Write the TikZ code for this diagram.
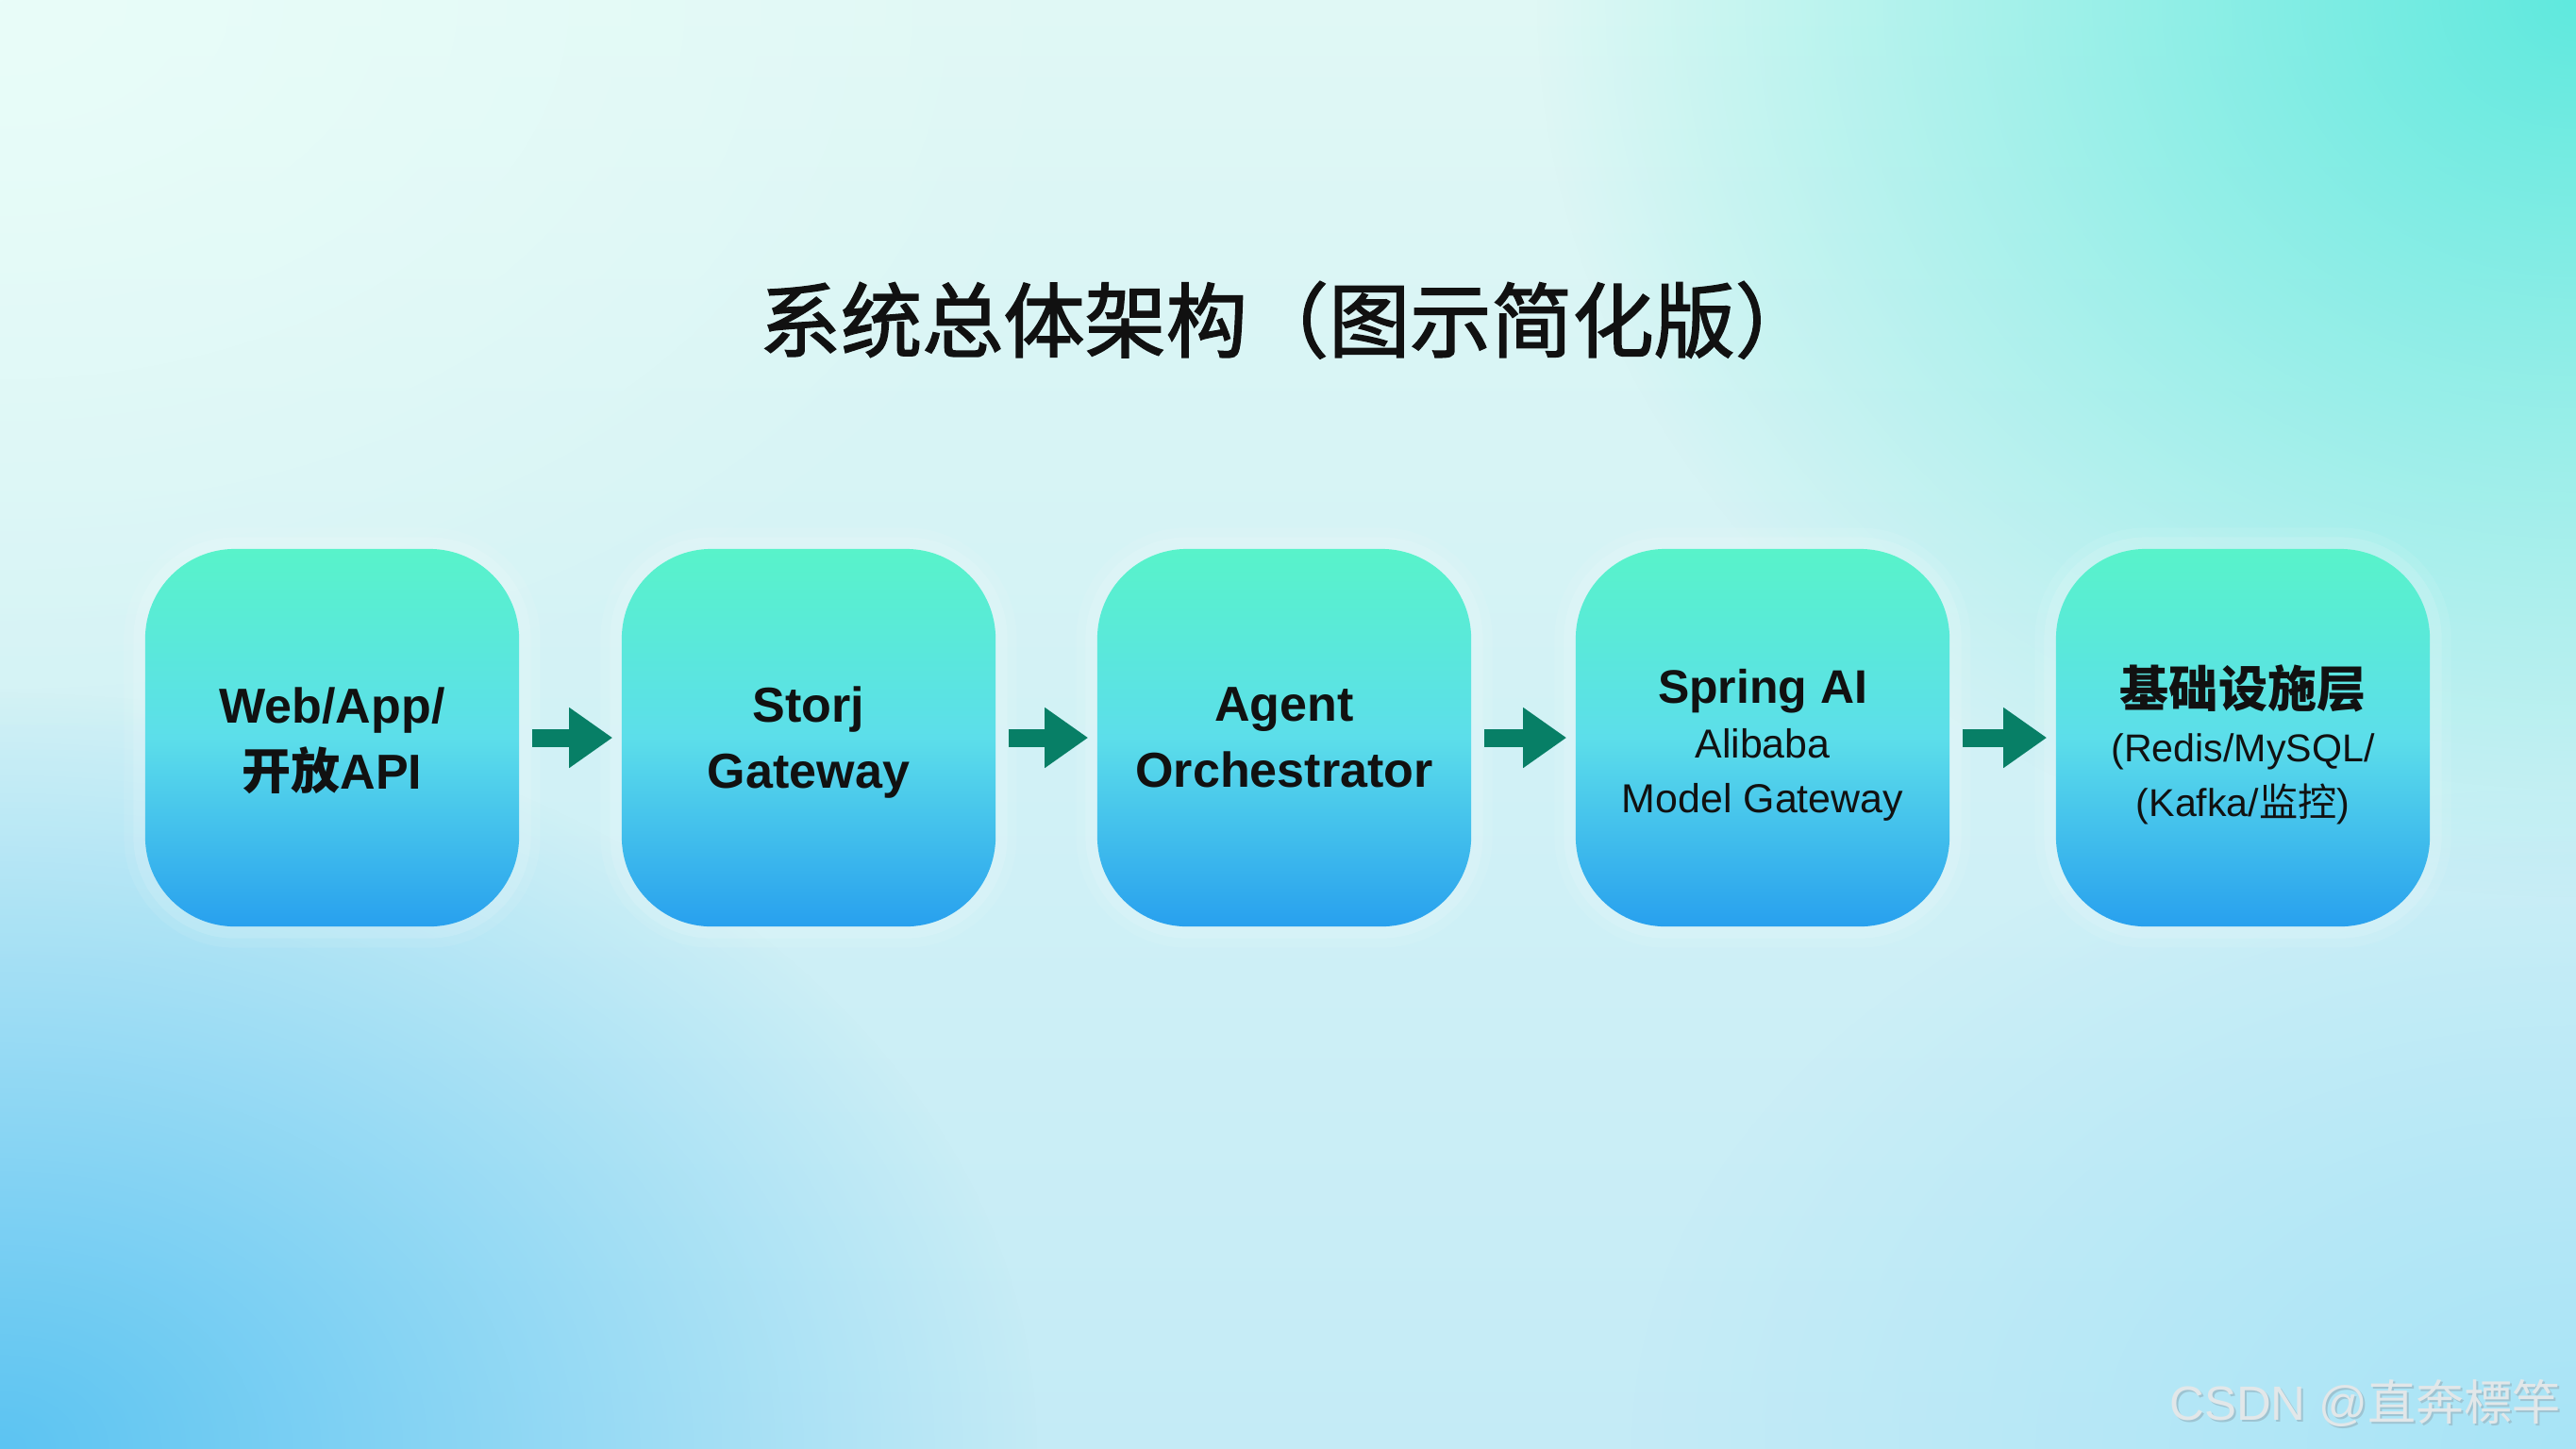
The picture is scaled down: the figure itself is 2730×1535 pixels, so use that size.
\documentclass[tikz,border=0pt]{standalone}
\usepackage{fontspec}
\setmainfont{Liberation Sans}
\newfontfamily\cjk{Noto Sans CJK SC}
\newfontfamily\cjkmid[FakeBold=1.8]{Noto Sans CJK SC}
\usetikzlibrary{arrows.meta,fadings}
\definecolor{bgtop}{HTML}{E0F8F5}
\definecolor{bgbot}{HTML}{C4EBF6}
\definecolor{tealblob}{HTML}{5FE9DE}
\definecolor{blueblob}{HTML}{5CC4F2}
\definecolor{whiteblob}{HTML}{E9FDF9}
\definecolor{brblob}{HTML}{A8E4F6}
\definecolor{boxtop}{HTML}{58F3CA}
\definecolor{boxmid}{HTML}{5CDEEA}
\definecolor{boxbot}{HTML}{28A0EE}
\definecolor{arrowc}{HTML}{077F66}
\definecolor{inkc}{HTML}{111111}
\definecolor{wmc}{HTML}{E2E7E9}
\definecolor{wmshade}{HTML}{9EC4D2}
\tikzfading[name=softblob, inner color=transparent!0, outer color=transparent!100]
\begin{document}
\begin{tikzpicture}[x=0.01cm, y=-0.01cm,
  stagebox/.style={rounded corners=0.95cm, minimum width=3.96cm, minimum height=4cm,
    inner sep=0pt, top color=boxtop, bottom color=boxbot, middle color=boxmid,
    align=center, text=inkc,
    preaction={draw=white, draw opacity=0.08, line width=0.45cm},
    preaction={draw=white, draw opacity=0.12, line width=0.25cm}},
  mainfont/.style={font=\fontsize{14.8}{19.9}\selectfont\bfseries},
  smallfont/.style={font=\fontsize{12.2}{16.6}\selectfont},
  flow/.style={draw=arrowc, line width=0.19cm, -{Triangle[length=0.46cm,width=0.61cm]}},
  titlefont/.style={font=\cjkmid\fontsize{24.5}{28}\selectfont, text=inkc},
  wmfont/.style={font=\fontsize{14.5}{17}\selectfont}
]
\useasboundingbox (0,0) rectangle (2730,1535);
% background
\begin{scope}
  \clip (0,0) rectangle (2730,1535);
  \shade[top color=bgtop, bottom color=bgbot] (0,0) rectangle (2730,1535);
  \fill[whiteblob, path fading=softblob] (0,0) ellipse [x radius=12cm, y radius=8cm];
  \fill[brblob, path fading=softblob] (2730,1535) ellipse [x radius=10cm, y radius=7cm];
  \fill[tealblob, path fading=softblob] (2730,0) ellipse [x radius=11cm, y radius=9.5cm];
  \fill[blueblob, path fading=softblob] (0,1535) ellipse [x radius=11cm, y radius=8cm];
\end{scope}

% title
\node[titlefont, anchor=base] (title) at (1365,372) {系统总体架构（图示简化版）};

% boxes
\node[stagebox, mainfont] (b1) at (352,782)
  {\rule{0pt}{12.5pt}Web/App/\\{\cjk\bfseries 开放}API};
\node[stagebox, mainfont] (b2) at (857,782)
  {\rule{0pt}{13.4pt}Storj\\Gateway};
\node[stagebox, mainfont] (b3) at (1361,782)
  {Agent\\Orchestrator};
\node[stagebox, smallfont] (b4) at (1868,782)
  {\rule{0pt}{14.8pt}{\bfseries\fontsize{14.2}{16.6}\selectfont Spring AI}\\Alibaba\\Model Gateway};
\node[stagebox, font=\fontsize{11.7}{16.5}\selectfont] (b5) at (2377,782)
  {\rule{0pt}{16.8pt}{\cjk\bfseries\fontsize{14.8}{16.5}\selectfont 基础设施层}\\(Redis/MySQL/\\(Kafka/{\cjk 监控})};

% arrows
\draw[flow] ([xshift=0.13cm]b1.east) -- ([xshift=-0.09cm]b2.west);
\draw[flow] ([xshift=0.13cm]b2.east) -- ([xshift=-0.09cm]b3.west);
\draw[flow] ([xshift=0.13cm]b3.east) -- ([xshift=-0.09cm]b4.west);
\draw[flow] ([xshift=0.13cm]b4.east) -- ([xshift=-0.09cm]b5.west);

% watermark
\node[wmfont, text=wmshade, anchor=base east] (wmshadow) at (2728,1507)
  {CSDN @{\cjk 直奔標竿}};
\node[wmfont, text=wmc, anchor=base east] (wm) at (2726,1505)
  {CSDN @{\cjk 直奔標竿}};
\end{tikzpicture}
\end{document}
